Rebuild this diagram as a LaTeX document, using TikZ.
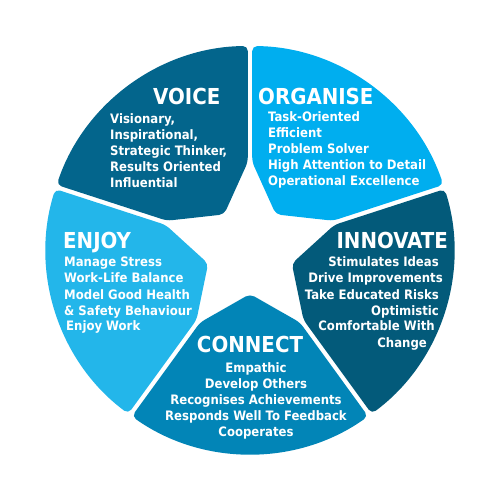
\documentclass[tikz,border=0pt]{standalone}
\usepackage{fontspec}
\setmainfont{DejaVu Sans Condensed}
\usetikzlibrary{calc}
\definecolor{cvoice}{HTML}{03658C}
\definecolor{corg}{HTML}{00AEEF}
\definecolor{cinn}{HTML}{035A7A}
\definecolor{ccon}{HTML}{0285B7}
\definecolor{cenj}{HTML}{23B6EA}
\tikzset{
  title/.style={text=white, inner sep=0pt, font=\bfseries\fontsize{22}{24}\selectfont},
  body/.style={text=white, inner sep=0pt, font=\bfseries\fontsize{13}{16}\selectfont},
}
\begin{document}
\begin{tikzpicture}[x=1pt,y=1pt]
\useasboundingbox (-250,-250) rectangle (250,250);
\foreach \c/\col in {126/cvoice, 54/corg, -18/cinn, -90/ccon, 198/cenj} {
  \pgfmathsetmacro\a{\c+36}
  \pgfmathsetmacro\b{\c-36}
  \fill[\col, rounded corners=5pt]
    (\c:44pt) -- ([shift={(\b+90:2.2pt)}]\b:88pt)
    -- ([shift={(\b+90:2.2pt)}]\b:204pt)
    arc[start angle=\b+0.62, end angle=\a-0.62, radius=204pt]
    -- ([shift={(\a-90:2.2pt)}]\a:88pt) -- cycle;
}
% VOICE
\node[title, anchor=base west] (vt) at (-97,145) {VOICE};
\node[body, anchor=base west] (v1) at (-140,126) {Visionary,};
\node[body, anchor=base west] (v2) at (-140,110) {Inspirational,};
\node[body, anchor=base west] (v3) at (-140,94) {Strategic Thinker,};
\node[body, anchor=base west] (v4) at (-140,78) {Results Oriented};
\node[body, anchor=base west] (v5) at (-140,62) {Influential};
% ORGANISE
\node[title, anchor=base west] (ot) at (8,145) {ORGANISE};
\node[body, anchor=base west] (o1) at (18,128) {Task-Oriented};
\node[body, anchor=base west] (o2) at (18,112) {Efficient};
\node[body, anchor=base west] (o3) at (18,96) {Problem Solver};
\node[body, anchor=base west] (o4) at (18,80) {High Attention to Detail};
\node[body, anchor=base west] (o5) at (18,64) {Operational Excellence};
% INNOVATE
\node[title, anchor=base east] (it) at (198,1) {INNOVATE};
\node[body, anchor=base east] (i1) at (189,-17) {Stimulates Ideas};
\node[body, anchor=base east] (i2) at (193,-33) {Drive Improvements};
\node[body, anchor=base east] (i3) at (189,-49) {Take Educated Risks};
\node[body, anchor=base east] (i4) at (189,-65) {Optimistic};
\node[body, anchor=base east] (i5) at (185,-81) {Comfortable With};
\node[body, anchor=base east] (i6) at (177,-97) {Change};
% ENJOY
\node[title, anchor=base west] (et) at (-187,1) {ENJOY};
\node[body, anchor=base west] (e1) at (-186,-17) {Manage Stress};
\node[body, anchor=base west] (e2) at (-186,-33) {Work-Life Balance};
\node[body, anchor=base west] (e3) at (-186,-49) {Model Good Health};
\node[body, anchor=base west] (e4) at (-186,-65) {\& Safety Behaviour};
\node[body, anchor=base west] (e5) at (-184,-81) {Enjoy Work};
% CONNECT
\node[title, anchor=base] (ct) at (0,-102) {CONNECT};
\node[body, anchor=base] (c1) at (6,-122) {Empathic};
\node[body, anchor=base] (c2) at (6,-138) {Develop Others};
\node[body, anchor=base] (c3) at (6,-154) {Recognises Achievements};
\node[body, anchor=base] (c4) at (6,-170) {Responds Well To Feedback};
\node[body, anchor=base] (c5) at (6,-186) {Cooperates};
\end{tikzpicture}
\end{document}
